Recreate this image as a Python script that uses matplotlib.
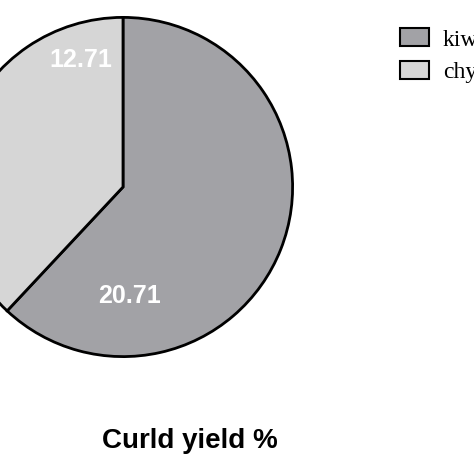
import matplotlib
matplotlib.use("Agg")
import matplotlib.pyplot as plt
from matplotlib.patches import Patch

labels = ["kiwi", "chymosin"]
values = [20.71, 12.71]
colors = ["#a2a2a6", "#d6d6d6"]

fig = plt.figure(figsize=(4.74, 4.74), dpi=100)
cx, cy, r = 123/474, 1-187/474, 173/474
ax = fig.add_axes([cx - r, cy - r, 2*r, 2*r])
ax.pie(values, colors=colors, startangle=90, counterclock=False,
       wedgeprops=dict(edgecolor="black", linewidth=2), radius=1)
ax.set_xlim(-1.02, 1.02); ax.set_ylim(-1.02, 1.02)
ax.set_aspect("equal")
ax.text(0.04, -0.64, f"{values[0]:.2f}", color="white", fontsize=18, fontweight="bold",
        ha="center", va="center", family="Liberation Sans")
ax.text(-0.25, 0.75, f"{values[1]:.2f}", color="white", fontsize=18, fontweight="bold",
        ha="center", va="center", family="Liberation Sans")

handles = [Patch(facecolor=c, edgecolor="black", linewidth=1.5) for c in colors]
fig.legend(handles, labels, loc="upper left", bbox_to_anchor=(0.80, 0.985), frameon=False,
           prop=dict(family="Liberation Serif", size=17), handlelength=1.2, handleheight=0.8,
           labelspacing=0.45, handletextpad=0.6)
fig.text(0.40, 0.07, "Curld yield %", ha="center", va="center", fontsize=20,
         fontweight="bold", family="Liberation Sans")
fig.savefig("out.png", dpi=100)
